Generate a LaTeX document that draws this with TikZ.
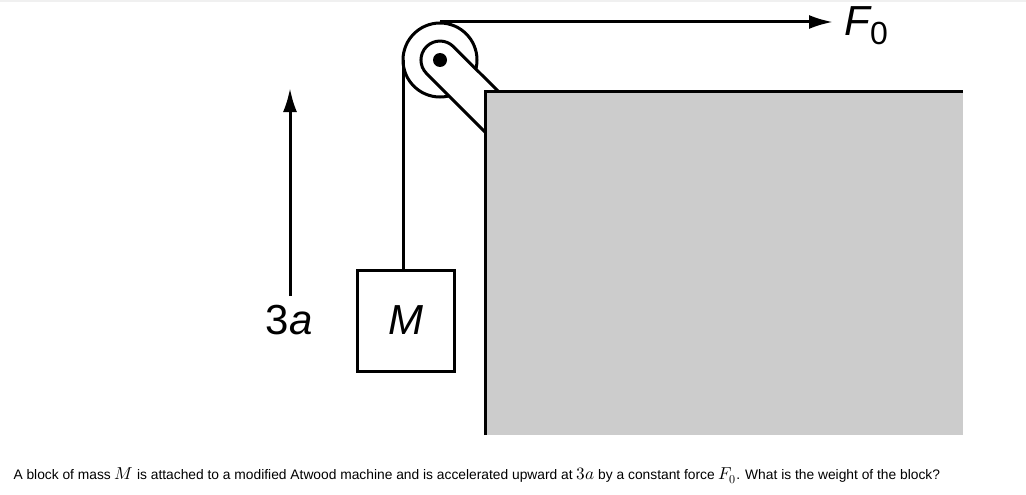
\documentclass[tikz,border=0pt]{standalone}
\usetikzlibrary{arrows.meta}
\usepackage{fontspec}
\setmainfont{Liberation Sans}
\usepackage{unicode-math}
\setmathfont[Scale=1.25]{Latin Modern Math}
\begin{document}
\begin{tikzpicture}[x=1pt,y=-1pt,line width=3pt,
  lbl/.style={font=\fontsize{42}{46}\selectfont, inner sep=0pt}]
\useasboundingbox (0,0) rectangle (1026,495);
\fill[black!6] (0,0) rectangle (1026,2);
\coordinate (c) at (440,60);
% rope top
\coordinate (ropeend) at (833,22);
\draw[-{Latex[length=24pt,width=14pt]}] (440,22) -- (ropeend);
\node[lbl, anchor=west] (F) at (843,26) {\itshape F\raisebox{-9pt}{\upshape\fontsize{32}{34}\selectfont 0}};
% pulley
\draw[fill=white] (c) circle (37);
% arm
\draw[fill=white] (453.4,46.6) arc[start angle=-45,end angle=-225,radius=19] -- (530,177) -- (530,123) -- cycle;
\fill (c) circle (7);
% block
\fill[black!20] (485,92) rectangle (963,435);
\draw (485,435) -- (485,92) -- (963,92);
% mass
\node[draw, minimum width=97pt, minimum height=101pt, inner sep=0pt, line width=3pt] (M) at (405.5,320.5) {};
\node[lbl] at (M) {\itshape M};
\draw (403,60) -- (M.north -| 403,0);
% acceleration
\coordinate (at) at (290,88);
\coordinate (ab) at (290,296);
\draw[-{Latex[length=24pt,width=14pt]}] (ab) -- (at);
\node[lbl] (a) at (289,320) {3\itshape a};
\node[anchor=base west, inner sep=0pt, font=\fontsize{13.8}{16}\selectfont] (cap) at (12,479)
 {A block of mass $M$ is attached to a modified Atwood machine and is accelerated upward at $3a$ by a constant force $F_0$. What is the weight of the block?};
\end{tikzpicture}
\end{document}
